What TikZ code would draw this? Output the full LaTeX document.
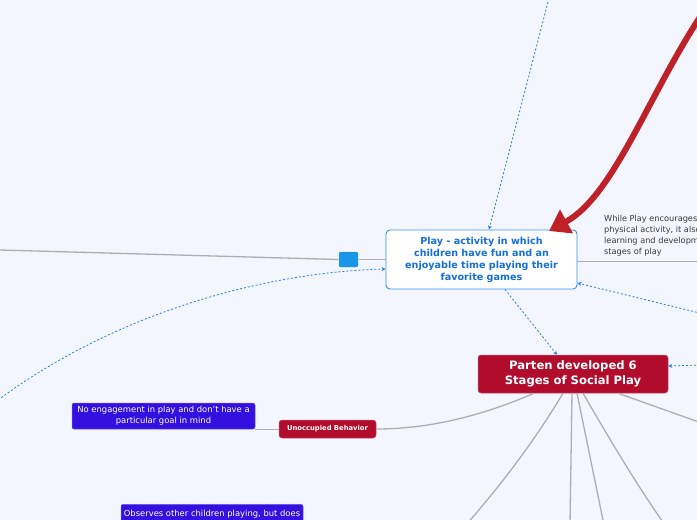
\documentclass[tikz,border=0pt]{standalone}
\usepackage{fontspec}
\setmainfont{DejaVu Sans}
\usetikzlibrary{arrows.meta}
\definecolor{bg}{HTML}{F3F6FE}
\definecolor{mainblue}{HTML}{3A8EE8}
\definecolor{maintext}{HTML}{1470D8}
\definecolor{sqblue}{HTML}{1A96E8}
\definecolor{topicred}{HTML}{B10C2C}
\definecolor{arrowred}{HTML}{BE2228}
\definecolor{descblue}{HTML}{3410E0}
\definecolor{linkgray}{HTML}{AEAEAE}
\definecolor{notegray}{HTML}{3A3A3A}
\definecolor{relblue}{HTML}{2A7FE0}
\tikzset{
  mainbox/.style={draw=mainblue, line width=0.9pt, fill=white, rounded corners=4pt,
    minimum width=191pt, minimum height=59pt, inner sep=0pt, align=center,
    text=maintext, font=\fontsize{9.6}{12}\selectfont\bfseries},
  topicbox/.style={fill=topicred, draw=topicred!70!white, line width=0.5pt, rounded corners=3pt,
    inner sep=0pt, align=center, text=white},
  descbox/.style={fill=descblue, draw=descblue!70!white, line width=0.5pt, rounded corners=2pt,
    inner sep=0pt, align=center, text=white, font=\fontsize{8.4}{11}\selectfont},
  branch/.style={draw=linkgray, line width=1.3pt},
  rel/.style={draw=relblue, line width=0.8pt, dash pattern=on 2pt off 2pt,
    -{Stealth[length=4pt,width=4pt]}},
}
\begin{document}
\begin{tikzpicture}[x=1pt,y=-1pt]
\useasboundingbox (0,0) rectangle (697,520);
\clip (0,0) rectangle (697,520);
\fill[bg] (0,0) rectangle (697,520);

% free ends
\coordinate (leftend) at (0,250);
\coordinate (rightend) at (697,261);
\coordinate (topend) at (549,-2);
\coordinate (redstart) at (706,8);
\coordinate (redtip) at (549,231);
\coordinate (llend) at (-2,400);
\coordinate (rrend) at (720,318);
\coordinate (rr2end) at (700,365);
\coordinate (b1) at (466,525);
\coordinate (b2) at (570,525);
\coordinate (b3) at (604,525);
\coordinate (b4) at (665,525);
\coordinate (b5) at (710,426);

% nodes
\node[mainbox] (main) at (481.5,259.5) {Play - activity in which\\children have fun and an\\enjoyable time playing their\\favorite games};
\node[fill=sqblue, draw=white, line width=0.5pt, rounded corners=2pt, minimum width=20pt, minimum height=16pt, inner sep=0pt] (sq) at (348.5,259.5) {};
\node[topicbox, minimum width=190pt, minimum height=38pt, font=\fontsize{11.6}{15}\selectfont\bfseries] (parten) at (573,374) {Parten developed 6\\Stages of Social Play};
\node[topicbox, minimum width=97pt, minimum height=18pt, font=\fontsize{6.8}{8}\selectfont\bfseries] (unocc) at (327.5,429) {Unoccupied Behavior};
\node[descbox, minimum width=183pt, minimum height=26pt] (desc1) at (163.5,416) {No engagement in play and don't have a\\particular goal in mind};
\node[descbox, minimum width=182pt, minimum height=30pt, anchor=north] (desc2) at (212,504) {Observes other children playing, but does\\not get involved in activities. Children at};
\node[anchor=north west, inner sep=0pt, align=left, text=notegray, font=\fontsize{8.2}{11}\selectfont] (note) at (604,215) {While Play encourages\\physical activity, it also\\learning and development\\stages of play};

% branch lines
\draw[branch] (leftend) -- (sq.west);
\draw[branch, line width=1pt] (sq.east) -- (main.west |- sq.east);
\draw[branch, line width=1pt] (main.east |- rightend) -- (rightend);
\draw[branch, line width=1pt] (desc1.east |- unocc.west) -- (unocc.west);
\draw[branch] (unocc.east) .. controls (440,429) and (495,410) .. (parten.south -| 534,0);
\draw[branch] (parten.south -| 563,0) .. controls (535,440) and (505,480) .. (b1);
\draw[branch] (parten.south -| 572,0) -- (b2);
\draw[branch] (parten.south -| 577,0) -- (b3);
\draw[branch] (parten.south -| 583,0) .. controls (610,440) and (640,490) .. (b4);
\draw[branch] (parten.south -| 618,0) -- (b5);

% relationships
\draw[rel] (topend) -- (main.north -| 489,0);
\draw[rel] (llend) .. controls (120,310) and (270,272) .. (main.west |- 0,269);
\draw[rel] (main.south -| 505,0) -- (parten.north -| 557,0);
\draw[rel] (rrend) -- (main.east |- 0,283);
\draw[rel] (rr2end) -- (parten.east |- 0,366);

% red arrow
\draw[arrowred, line width=6pt, -{Triangle[length=20pt,width=26pt]}] (redstart) .. controls (650,90) and (615,195) .. (redtip);
\end{tikzpicture}
\end{document}
